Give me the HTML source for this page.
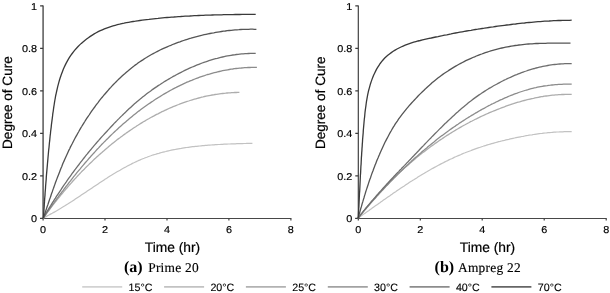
<!DOCTYPE html>
<html><head><meta charset="utf-8"><title>Degree of Cure</title>
<style>
html,body{margin:0;padding:0;background:#fff;}
svg{display:block}
text{font-family:"Liberation Sans",Arial,Helvetica,sans-serif;fill:#000;stroke:#000;stroke-width:0.12px;text-rendering:geometricPrecision}
.t{font-size:9.9px;stroke-width:0.16px}
.l{font-size:10.7px;stroke-width:0.12px}
.a{font-size:13.8px;stroke-width:0.2px}
.c{font-family:"Liberation Serif","Times New Roman",serif;font-size:13.4px;letter-spacing:0.25px;stroke-width:0.15px}
.cb{font-family:"Liberation Serif","Times New Roman",serif;font-size:16px;font-weight:bold;stroke:none}
</style></head><body>
<svg width="610" height="293" viewBox="0 0 610 293">
<rect width="610" height="293" fill="#fff"/>
<path d="M43.1,5.4 V218.4" fill="none" stroke="#626262" stroke-width="1.6"/>
<path d="M40.1,218.4 H291.4" fill="none" stroke="#484848" stroke-width="1.05"/>
<path d="M40.1,218.4 H43.1 M40.1,175.9 H43.1 M40.1,133.4 H43.1 M40.1,90.9 H43.1 M40.1,48.4 H43.1 M40.1,5.9 H43.1 M43.1,218.4 v2.2 M105.0,218.4 v2.2 M167.0,218.4 v2.2 M228.9,218.4 v2.2 M290.9,218.4 v2.2 " fill="none" stroke="#3c3c3c" stroke-width="1.15"/>
<path d="M43.3,218.3 L44.7,217.2 L46.0,216.6 L47.2,215.9 L48.5,215.3 L49.7,214.6 L51.0,213.9 L52.2,213.3 L53.4,212.6 L54.7,211.9 L55.9,211.2 L57.1,210.5 L58.4,209.7 L59.6,209.0 L60.8,208.3 L62.0,207.5 L63.2,206.8 L64.5,206.1 L65.7,205.3 L66.9,204.5 L68.1,203.8 L69.3,203.0 L70.5,202.2 L71.7,201.5 L72.9,200.7 L74.1,199.9 L75.3,199.1 L76.5,198.3 L77.7,197.5 L78.9,196.7 L80.1,195.9 L81.3,195.1 L82.5,194.3 L83.7,193.5 L84.9,192.7 L86.1,191.9 L87.3,191.1 L88.5,190.3 L89.7,189.5 L90.9,188.7 L92.1,187.9 L93.3,187.1 L94.5,186.3 L95.7,185.5 L96.9,184.7 L98.1,183.9 L99.3,183.1 L100.5,182.3 L101.7,181.5 L102.9,180.7 L104.1,179.9 L105.3,179.1 L106.5,178.4 L107.7,177.6 L108.9,176.8 L110.1,176.0 L111.4,175.3 L112.6,174.5 L113.8,173.8 L115.0,173.1 L116.3,172.3 L117.5,171.6 L118.7,170.9 L120.0,170.2 L121.2,169.4 L122.4,168.7 L123.7,168.0 L124.9,167.4 L126.2,166.7 L127.4,166.0 L128.7,165.4 L130.0,164.7 L131.2,164.1 L132.5,163.4 L133.8,162.8 L135.0,162.2 L136.3,161.6 L137.6,161.0 L138.9,160.4 L140.2,159.9 L141.5,159.3 L142.8,158.8 L144.1,158.3 L145.4,157.7 L146.8,157.2 L148.1,156.7 L149.4,156.3 L150.8,155.8 L152.1,155.3 L153.4,154.9 L154.8,154.5 L156.1,154.1 L157.5,153.6 L158.9,153.3 L160.2,152.9 L161.6,152.5 L163.0,152.1 L164.4,151.8 L165.7,151.5 L167.1,151.1 L168.5,150.8 L169.9,150.5 L171.3,150.2 L172.7,149.9 L174.1,149.6 L175.5,149.4 L176.9,149.1 L178.3,148.8 L179.8,148.6 L181.2,148.4 L182.6,148.1 L184.0,147.9 L185.4,147.7 L186.8,147.5 L188.3,147.3 L189.7,147.1 L191.1,146.9 L192.5,146.7 L194.0,146.6 L195.4,146.4 L196.8,146.3 L198.3,146.1 L199.7,146.0 L201.1,145.8 L202.6,145.7 L204.0,145.6 L205.4,145.4 L206.8,145.3 L208.3,145.2 L209.7,145.1 L211.1,145.0 L212.6,144.9 L214.0,144.8 L215.4,144.7 L216.9,144.6 L218.3,144.5 L219.7,144.5 L221.2,144.4 L222.6,144.3 L224.0,144.2 L225.4,144.2 L226.9,144.1 L228.3,144.0 L229.7,144.0 L231.2,143.9 L232.6,143.9 L234.0,143.8 L235.4,143.8 L236.9,143.7 L238.3,143.7 L239.7,143.6 L241.1,143.6 L242.5,143.6 L244.0,143.5 L245.4,143.5 L246.8,143.4 L248.2,143.4 L249.6,143.4 L251.0,143.3 L252.4,143.3" fill="none" stroke="#c2c2c2" stroke-width="1.2"/>
<path d="M43.3,218.3 L44.4,216.5 L45.2,215.3 L46.1,214.1 L47.0,212.9 L47.9,211.7 L48.8,210.5 L49.7,209.3 L50.6,208.1 L51.5,206.9 L52.4,205.7 L53.3,204.5 L54.2,203.4 L55.2,202.2 L56.1,201.0 L57.0,199.8 L58.0,198.6 L58.9,197.5 L59.9,196.3 L60.8,195.1 L61.8,194.0 L62.8,192.8 L63.7,191.6 L64.7,190.5 L65.7,189.3 L66.7,188.2 L67.7,187.0 L68.7,185.9 L69.7,184.7 L70.7,183.6 L71.7,182.5 L72.7,181.3 L73.7,180.2 L74.7,179.1 L75.8,178.0 L76.8,176.9 L77.8,175.8 L78.9,174.6 L79.9,173.5 L81.0,172.4 L82.0,171.3 L83.1,170.3 L84.2,169.2 L85.2,168.1 L86.3,167.0 L87.4,165.9 L88.5,164.9 L89.6,163.8 L90.7,162.7 L91.8,161.7 L92.9,160.6 L94.0,159.6 L95.1,158.6 L96.2,157.5 L97.3,156.5 L98.5,155.5 L99.6,154.4 L100.7,153.4 L101.9,152.4 L103.0,151.4 L104.2,150.4 L105.3,149.4 L106.5,148.4 L107.7,147.5 L108.8,146.5 L110.0,145.5 L111.2,144.6 L112.4,143.6 L113.5,142.7 L114.7,141.7 L115.9,140.8 L117.1,139.8 L118.3,138.9 L119.6,138.0 L120.8,137.1 L122.0,136.2 L123.2,135.3 L124.4,134.4 L125.7,133.5 L126.9,132.6 L128.2,131.7 L129.4,130.9 L130.7,130.0 L131.9,129.2 L133.2,128.3 L134.4,127.5 L135.7,126.7 L137.0,125.8 L138.3,125.0 L139.5,124.2 L140.8,123.4 L142.1,122.6 L143.4,121.8 L144.7,121.1 L146.0,120.3 L147.3,119.5 L148.7,118.8 L150.0,118.0 L151.3,117.3 L152.6,116.6 L154.0,115.9 L155.3,115.1 L156.6,114.4 L158.0,113.8 L159.3,113.1 L160.7,112.4 L162.0,111.7 L163.4,111.1 L164.8,110.4 L166.1,109.8 L167.5,109.2 L168.9,108.5 L170.3,107.9 L171.7,107.3 L173.1,106.7 L174.5,106.2 L175.9,105.6 L177.3,105.0 L178.7,104.5 L180.1,103.9 L181.5,103.4 L182.9,102.9 L184.3,102.4 L185.8,101.9 L187.2,101.4 L188.6,101.0 L190.1,100.5 L191.5,100.0 L193.0,99.6 L194.4,99.2 L195.9,98.8 L197.3,98.4 L198.8,98.0 L200.2,97.6 L201.7,97.2 L203.2,96.9 L204.6,96.5 L206.1,96.2 L207.6,95.9 L209.1,95.6 L210.6,95.3 L212.1,95.0 L213.6,94.8 L215.0,94.5 L216.5,94.3 L218.1,94.1 L219.6,93.9 L221.1,93.7 L222.6,93.5 L224.1,93.3 L225.6,93.2 L227.1,93.0 L228.7,92.9 L230.2,92.8 L231.7,92.7 L233.2,92.6 L234.8,92.5 L236.3,92.5 L237.9,92.4 L239.4,92.4" fill="none" stroke="#adadad" stroke-width="1.3"/>
<path d="M43.3,218.3 L44.4,216.3 L45.4,214.9 L46.3,213.5 L47.3,212.2 L48.2,210.8 L49.2,209.4 L50.2,208.0 L51.2,206.7 L52.2,205.3 L53.1,203.9 L54.1,202.6 L55.1,201.2 L56.1,199.8 L57.1,198.4 L58.1,197.1 L59.1,195.7 L60.1,194.3 L61.2,193.0 L62.2,191.6 L63.2,190.3 L64.2,188.9 L65.3,187.5 L66.3,186.2 L67.4,184.8 L68.4,183.5 L69.4,182.1 L70.5,180.8 L71.6,179.4 L72.6,178.1 L73.7,176.7 L74.8,175.4 L75.8,174.1 L76.9,172.7 L78.0,171.4 L79.1,170.1 L80.2,168.8 L81.3,167.4 L82.4,166.1 L83.5,164.8 L84.6,163.5 L85.7,162.2 L86.9,160.9 L88.0,159.6 L89.1,158.3 L90.3,157.0 L91.4,155.7 L92.6,154.4 L93.7,153.2 L94.9,151.9 L96.0,150.6 L97.2,149.3 L98.4,148.1 L99.6,146.8 L100.7,145.6 L101.9,144.3 L103.1,143.1 L104.3,141.9 L105.5,140.7 L106.7,139.4 L108.0,138.2 L109.2,137.0 L110.4,135.8 L111.6,134.6 L112.9,133.4 L114.1,132.2 L115.4,131.1 L116.6,129.9 L117.9,128.7 L119.1,127.6 L120.4,126.4 L121.7,125.3 L123.0,124.1 L124.3,123.0 L125.6,121.9 L126.9,120.8 L128.2,119.7 L129.5,118.6 L130.8,117.5 L132.1,116.4 L133.4,115.3 L134.8,114.2 L136.1,113.2 L137.5,112.1 L138.8,111.1 L140.2,110.1 L141.5,109.0 L142.9,108.0 L144.3,107.0 L145.7,106.0 L147.1,105.0 L148.5,104.0 L149.9,103.1 L151.3,102.1 L152.7,101.2 L154.1,100.2 L155.5,99.3 L157.0,98.4 L158.4,97.5 L159.9,96.6 L161.3,95.7 L162.8,94.8 L164.3,93.9 L165.7,93.1 L167.2,92.2 L168.7,91.4 L170.2,90.5 L171.7,89.7 L173.2,88.9 L174.7,88.1 L176.2,87.4 L177.7,86.6 L179.3,85.8 L180.8,85.1 L182.4,84.4 L183.9,83.6 L185.5,82.9 L187.0,82.2 L188.6,81.6 L190.1,80.9 L191.7,80.3 L193.3,79.6 L194.9,79.0 L196.5,78.4 L198.1,77.8 L199.7,77.2 L201.3,76.6 L202.9,76.1 L204.5,75.6 L206.1,75.0 L207.8,74.5 L209.4,74.1 L211.0,73.6 L212.7,73.1 L214.3,72.7 L216.0,72.3 L217.6,71.9 L219.3,71.5 L221.0,71.1 L222.6,70.7 L224.3,70.4 L226.0,70.1 L227.7,69.8 L229.3,69.5 L231.0,69.2 L232.7,69.0 L234.4,68.7 L236.1,68.5 L237.8,68.3 L239.5,68.1 L241.3,68.0 L243.0,67.8 L244.7,67.7 L246.4,67.6 L248.2,67.5 L249.9,67.5 L251.6,67.4 L253.4,67.4 L255.1,67.4 L256.9,67.4" fill="none" stroke="#8c8c8c" stroke-width="1.3"/>
<path d="M43.3,218.3 L44.3,216.3 L45.2,214.8 L46.1,213.2 L47.0,211.7 L47.9,210.2 L48.8,208.7 L49.7,207.2 L50.7,205.7 L51.6,204.2 L52.5,202.7 L53.5,201.2 L54.4,199.7 L55.4,198.2 L56.3,196.7 L57.3,195.2 L58.2,193.8 L59.2,192.3 L60.2,190.8 L61.2,189.4 L62.1,187.9 L63.1,186.4 L64.1,185.0 L65.1,183.5 L66.1,182.1 L67.1,180.6 L68.1,179.2 L69.2,177.7 L70.2,176.3 L71.2,174.9 L72.2,173.4 L73.3,172.0 L74.3,170.6 L75.4,169.2 L76.4,167.8 L77.5,166.4 L78.6,165.0 L79.6,163.6 L80.7,162.2 L81.8,160.8 L82.9,159.4 L84.0,158.0 L85.1,156.6 L86.2,155.2 L87.3,153.9 L88.4,152.5 L89.5,151.1 L90.7,149.8 L91.8,148.4 L92.9,147.1 L94.1,145.7 L95.2,144.4 L96.4,143.0 L97.5,141.7 L98.7,140.4 L99.9,139.0 L101.0,137.7 L102.2,136.4 L103.4,135.1 L104.6,133.8 L105.8,132.5 L107.0,131.2 L108.2,129.9 L109.4,128.6 L110.6,127.3 L111.8,126.0 L113.0,124.7 L114.2,123.4 L115.4,122.2 L116.7,120.9 L117.9,119.6 L119.2,118.4 L120.4,117.1 L121.7,115.9 L122.9,114.7 L124.2,113.4 L125.5,112.2 L126.7,111.0 L128.0,109.8 L129.3,108.6 L130.6,107.4 L131.9,106.2 L133.2,105.0 L134.5,103.8 L135.8,102.7 L137.2,101.5 L138.5,100.4 L139.9,99.3 L141.2,98.2 L142.6,97.1 L144.0,96.0 L145.3,94.9 L146.7,93.8 L148.1,92.7 L149.6,91.7 L151.0,90.7 L152.4,89.6 L153.8,88.6 L155.3,87.6 L156.8,86.6 L158.2,85.6 L159.7,84.7 L161.2,83.7 L162.7,82.8 L164.2,81.8 L165.7,80.9 L167.2,80.0 L168.7,79.1 L170.2,78.2 L171.8,77.3 L173.3,76.4 L174.9,75.6 L176.4,74.7 L178.0,73.9 L179.5,73.1 L181.1,72.3 L182.7,71.5 L184.3,70.7 L185.9,69.9 L187.5,69.2 L189.1,68.4 L190.7,67.7 L192.3,67.0 L194.0,66.3 L195.6,65.6 L197.2,64.9 L198.9,64.3 L200.5,63.7 L202.2,63.0 L203.9,62.4 L205.5,61.9 L207.2,61.3 L208.9,60.7 L210.6,60.2 L212.2,59.7 L213.9,59.2 L215.6,58.7 L217.3,58.3 L219.0,57.8 L220.7,57.4 L222.5,57.0 L224.2,56.6 L225.9,56.2 L227.6,55.9 L229.4,55.6 L231.1,55.3 L232.8,55.0 L234.6,54.8 L236.3,54.5 L238.1,54.3 L239.8,54.1 L241.6,53.9 L243.3,53.8 L245.1,53.7 L246.8,53.6 L248.6,53.5 L250.4,53.4 L252.1,53.4 L253.9,53.4 L255.7,53.4" fill="none" stroke="#6e6e6e" stroke-width="1.3"/>
<path d="M43.3,218.3 L44.0,216.0 L44.7,214.1 L45.3,212.3 L45.9,210.4 L46.5,208.6 L47.1,206.7 L47.8,204.9 L48.4,203.0 L49.0,201.2 L49.6,199.4 L50.3,197.5 L50.9,195.7 L51.5,193.8 L52.2,192.0 L52.8,190.1 L53.5,188.3 L54.1,186.5 L54.8,184.6 L55.4,182.8 L56.1,181.0 L56.8,179.1 L57.5,177.3 L58.2,175.5 L58.9,173.7 L59.6,171.9 L60.3,170.0 L61.0,168.2 L61.8,166.4 L62.5,164.6 L63.2,162.8 L64.0,161.1 L64.8,159.3 L65.6,157.5 L66.4,155.7 L67.2,153.9 L68.0,152.2 L68.8,150.4 L69.7,148.7 L70.5,146.9 L71.4,145.2 L72.3,143.5 L73.2,141.7 L74.1,140.0 L75.0,138.3 L75.9,136.6 L76.9,134.9 L77.8,133.2 L78.8,131.5 L79.7,129.8 L80.7,128.1 L81.7,126.5 L82.7,124.8 L83.8,123.1 L84.8,121.5 L85.8,119.8 L86.9,118.2 L88.0,116.6 L89.1,115.0 L90.2,113.3 L91.3,111.7 L92.4,110.1 L93.5,108.6 L94.7,107.0 L95.8,105.4 L97.0,103.8 L98.2,102.3 L99.4,100.7 L100.6,99.2 L101.8,97.7 L103.1,96.2 L104.3,94.7 L105.6,93.2 L106.9,91.7 L108.1,90.3 L109.4,88.8 L110.8,87.4 L112.1,85.9 L113.4,84.5 L114.8,83.1 L116.2,81.7 L117.5,80.4 L118.9,79.0 L120.3,77.7 L121.8,76.3 L123.2,75.0 L124.7,73.7 L126.1,72.4 L127.6,71.2 L129.1,69.9 L130.6,68.7 L132.1,67.5 L133.7,66.3 L135.2,65.1 L136.8,64.0 L138.3,62.8 L139.9,61.7 L141.6,60.6 L143.2,59.6 L144.8,58.5 L146.5,57.5 L148.1,56.5 L149.8,55.5 L151.5,54.5 L153.2,53.6 L154.9,52.7 L156.6,51.8 L158.4,50.9 L160.1,50.0 L161.9,49.2 L163.6,48.4 L165.4,47.6 L167.2,46.8 L169.0,46.0 L170.8,45.3 L172.6,44.5 L174.4,43.8 L176.2,43.1 L178.1,42.4 L179.9,41.8 L181.7,41.1 L183.6,40.5 L185.4,39.9 L187.3,39.3 L189.2,38.7 L191.0,38.2 L192.9,37.6 L194.8,37.1 L196.7,36.6 L198.6,36.1 L200.5,35.6 L202.3,35.2 L204.2,34.7 L206.1,34.3 L208.1,33.9 L210.0,33.5 L211.9,33.1 L213.8,32.8 L215.7,32.4 L217.6,32.1 L219.5,31.8 L221.5,31.5 L223.4,31.2 L225.3,31.0 L227.3,30.7 L229.2,30.5 L231.1,30.3 L233.1,30.1 L235.0,29.9 L236.9,29.8 L238.9,29.7 L240.8,29.5 L242.8,29.4 L244.7,29.4 L246.6,29.3 L248.6,29.3 L250.5,29.2 L252.5,29.2 L254.4,29.3 L256.4,29.3" fill="none" stroke="#555555" stroke-width="1.3"/>
<path d="M43.3,218.3 L43.6,215.5 L43.7,213.3 L43.9,211.0 L44.0,208.7 L44.2,206.4 L44.3,204.1 L44.5,201.9 L44.6,199.6 L44.8,197.3 L45.0,195.1 L45.1,192.8 L45.3,190.5 L45.5,188.2 L45.6,186.0 L45.8,183.7 L46.0,181.4 L46.2,179.2 L46.3,176.9 L46.5,174.6 L46.7,172.4 L46.9,170.1 L47.1,167.9 L47.3,165.6 L47.5,163.3 L47.7,161.1 L47.9,158.8 L48.1,156.5 L48.3,154.3 L48.5,152.0 L48.7,149.8 L49.0,147.5 L49.2,145.2 L49.4,143.0 L49.7,140.7 L49.9,138.4 L50.1,136.2 L50.4,133.9 L50.6,131.7 L50.9,129.4 L51.2,127.1 L51.4,124.9 L51.7,122.6 L52.0,120.3 L52.3,118.1 L52.6,115.8 L52.8,113.6 L53.2,111.3 L53.5,109.0 L53.8,106.8 L54.2,104.5 L54.5,102.3 L54.9,100.0 L55.3,97.8 L55.7,95.5 L56.2,93.3 L56.7,91.0 L57.2,88.8 L57.7,86.6 L58.3,84.4 L58.9,82.2 L59.5,80.0 L60.2,77.8 L60.9,75.7 L61.7,73.5 L62.5,71.4 L63.3,69.3 L64.2,67.2 L65.2,65.1 L66.2,63.1 L67.3,61.1 L68.4,59.1 L69.6,57.2 L70.8,55.3 L72.2,53.5 L73.6,51.7 L75.0,49.9 L76.5,48.2 L78.1,46.5 L79.7,44.9 L81.3,43.4 L83.0,41.9 L84.8,40.4 L86.6,39.0 L88.4,37.7 L90.3,36.4 L92.3,35.1 L94.2,33.9 L96.2,32.8 L98.2,31.7 L100.3,30.7 L102.3,29.8 L104.4,28.9 L106.5,28.1 L108.7,27.3 L110.8,26.6 L113.0,25.9 L115.2,25.3 L117.4,24.7 L119.6,24.2 L121.8,23.6 L124.1,23.2 L126.3,22.7 L128.6,22.3 L130.8,21.9 L133.1,21.5 L135.4,21.2 L137.6,20.8 L139.9,20.5 L142.2,20.2 L144.4,19.9 L146.7,19.6 L148.9,19.4 L151.2,19.1 L153.5,18.8 L155.7,18.6 L158.0,18.4 L160.2,18.1 L162.5,17.9 L164.8,17.7 L167.0,17.5 L169.3,17.3 L171.5,17.1 L173.8,17.0 L176.1,16.8 L178.3,16.6 L180.6,16.5 L182.9,16.3 L185.1,16.2 L187.4,16.1 L189.7,16.0 L192.0,15.8 L194.2,15.7 L196.5,15.6 L198.8,15.5 L201.1,15.4 L203.3,15.3 L205.6,15.2 L207.9,15.2 L210.2,15.1 L212.4,15.0 L214.7,14.9 L217.0,14.9 L219.3,14.8 L221.6,14.8 L223.8,14.7 L226.1,14.7 L228.4,14.6 L230.7,14.6 L233.0,14.6 L235.2,14.5 L237.5,14.5 L239.8,14.5 L242.1,14.4 L244.3,14.4 L246.6,14.4 L248.9,14.4 L251.2,14.4 L253.4,14.4 L255.7,14.4" fill="none" stroke="#3a3a3a" stroke-width="1.3"/>
<text transform="translate(37.1,222.3) scale(1.10,1)" text-anchor="end" class="t">0</text>
<text transform="translate(37.1,179.8) scale(1.10,1)" text-anchor="end" class="t">0.2</text>
<text transform="translate(37.1,137.3) scale(1.10,1)" text-anchor="end" class="t">0.4</text>
<text transform="translate(37.1,94.8) scale(1.10,1)" text-anchor="end" class="t">0.6</text>
<text transform="translate(37.1,52.3) scale(1.10,1)" text-anchor="end" class="t">0.8</text>
<text transform="translate(37.1,9.8) scale(1.10,1)" text-anchor="end" class="t">1</text>
<text transform="translate(43.1,233.0) scale(1.10,1)" text-anchor="middle" class="t">0</text>
<text transform="translate(105.0,233.0) scale(1.10,1)" text-anchor="middle" class="t">2</text>
<text transform="translate(167.0,233.0) scale(1.10,1)" text-anchor="middle" class="t">4</text>
<text transform="translate(228.9,233.0) scale(1.10,1)" text-anchor="middle" class="t">6</text>
<text transform="translate(290.9,233.0) scale(1.10,1)" text-anchor="middle" class="t">8</text>
<path d="M358.3,5.4 V218.4" fill="none" stroke="#3a3a3a" stroke-width="1.15"/>
<path d="M355.3,218.4 H606.7" fill="none" stroke="#484848" stroke-width="1.05"/>
<path d="M355.3,218.4 H358.3 M355.3,175.9 H358.3 M355.3,133.4 H358.3 M355.3,90.9 H358.3 M355.3,48.4 H358.3 M355.3,5.9 H358.3 M358.3,218.4 v2.2 M420.3,218.4 v2.2 M482.2,218.4 v2.2 M544.2,218.4 v2.2 M606.2,218.4 v2.2 " fill="none" stroke="#3c3c3c" stroke-width="1.15"/>
<path d="M358.1,218.5 L359.4,217.2 L360.6,216.3 L361.8,215.5 L363.0,214.6 L364.2,213.8 L365.4,212.9 L366.6,212.1 L367.8,211.2 L369.0,210.4 L370.2,209.5 L371.4,208.7 L372.6,207.8 L373.8,206.9 L375.0,206.1 L376.2,205.2 L377.5,204.4 L378.7,203.5 L379.9,202.7 L381.1,201.8 L382.3,201.0 L383.5,200.1 L384.7,199.3 L385.9,198.4 L387.1,197.6 L388.3,196.7 L389.6,195.9 L390.8,195.0 L392.0,194.2 L393.2,193.3 L394.4,192.5 L395.7,191.7 L396.9,190.8 L398.1,190.0 L399.3,189.2 L400.6,188.3 L401.8,187.5 L403.0,186.7 L404.3,185.9 L405.5,185.1 L406.7,184.3 L408.0,183.4 L409.2,182.6 L410.4,181.8 L411.7,181.0 L412.9,180.2 L414.2,179.5 L415.4,178.7 L416.7,177.9 L417.9,177.1 L419.2,176.3 L420.5,175.6 L421.7,174.8 L423.0,174.0 L424.3,173.3 L425.5,172.5 L426.8,171.8 L428.1,171.0 L429.4,170.3 L430.6,169.6 L431.9,168.8 L433.2,168.1 L434.5,167.4 L435.8,166.7 L437.1,166.0 L438.4,165.3 L439.7,164.6 L441.0,163.9 L442.3,163.2 L443.6,162.6 L444.9,161.9 L446.2,161.2 L447.6,160.6 L448.9,159.9 L450.2,159.3 L451.6,158.7 L452.9,158.1 L454.2,157.4 L455.6,156.8 L456.9,156.2 L458.3,155.6 L459.6,155.1 L461.0,154.5 L462.3,153.9 L463.7,153.3 L465.1,152.8 L466.4,152.2 L467.8,151.7 L469.2,151.2 L470.6,150.7 L472.0,150.1 L473.3,149.6 L474.7,149.1 L476.1,148.6 L477.5,148.1 L478.9,147.7 L480.3,147.2 L481.7,146.7 L483.1,146.3 L484.5,145.8 L485.9,145.4 L487.4,144.9 L488.8,144.5 L490.2,144.1 L491.6,143.7 L493.0,143.3 L494.5,142.9 L495.9,142.5 L497.3,142.1 L498.7,141.7 L500.2,141.4 L501.6,141.0 L503.0,140.6 L504.5,140.3 L505.9,139.9 L507.4,139.6 L508.8,139.3 L510.2,138.9 L511.7,138.6 L513.1,138.3 L514.6,138.0 L516.0,137.7 L517.5,137.4 L518.9,137.1 L520.4,136.8 L521.8,136.5 L523.3,136.3 L524.7,136.0 L526.2,135.7 L527.6,135.5 L529.1,135.2 L530.6,135.0 L532.0,134.8 L533.5,134.5 L534.9,134.3 L536.4,134.1 L537.9,133.9 L539.3,133.7 L540.8,133.5 L542.2,133.4 L543.7,133.2 L545.2,133.0 L546.6,132.9 L548.1,132.7 L549.6,132.6 L551.1,132.5 L552.5,132.3 L554.0,132.2 L555.5,132.1 L556.9,132.0 L558.4,132.0 L559.9,131.9 L561.4,131.8 L562.8,131.8 L564.3,131.7 L565.8,131.7 L567.3,131.7 L568.7,131.6 L570.2,131.6 L571.7,131.6" fill="none" stroke="#c2c2c2" stroke-width="1.2"/>
<path d="M358.1,218.5 L359.2,216.8 L360.2,215.5 L361.2,214.3 L362.2,213.0 L363.2,211.8 L364.3,210.5 L365.3,209.3 L366.3,208.0 L367.3,206.8 L368.4,205.6 L369.4,204.4 L370.4,203.1 L371.5,201.9 L372.5,200.7 L373.6,199.5 L374.7,198.3 L375.7,197.1 L376.8,195.9 L377.9,194.7 L379.0,193.5 L380.0,192.3 L381.1,191.2 L382.2,190.0 L383.3,188.8 L384.4,187.7 L385.5,186.5 L386.6,185.3 L387.8,184.2 L388.9,183.1 L390.0,181.9 L391.1,180.8 L392.3,179.6 L393.4,178.5 L394.6,177.4 L395.7,176.3 L396.9,175.2 L398.0,174.1 L399.2,173.0 L400.4,171.9 L401.5,170.8 L402.7,169.7 L403.9,168.6 L405.1,167.6 L406.3,166.5 L407.5,165.4 L408.7,164.4 L409.9,163.3 L411.1,162.3 L412.3,161.2 L413.5,160.2 L414.8,159.2 L416.0,158.1 L417.2,157.1 L418.5,156.1 L419.7,155.1 L421.0,154.1 L422.2,153.1 L423.5,152.1 L424.8,151.2 L426.0,150.2 L427.3,149.2 L428.6,148.2 L429.9,147.3 L431.2,146.3 L432.5,145.4 L433.8,144.5 L435.1,143.5 L436.4,142.6 L437.7,141.7 L439.0,140.8 L440.3,139.9 L441.7,139.0 L443.0,138.1 L444.3,137.2 L445.7,136.3 L447.0,135.4 L448.4,134.6 L449.7,133.7 L451.1,132.9 L452.5,132.0 L453.8,131.2 L455.2,130.4 L456.6,129.5 L458.0,128.7 L459.4,127.9 L460.8,127.1 L462.2,126.3 L463.6,125.5 L465.0,124.8 L466.4,124.0 L467.8,123.2 L469.2,122.5 L470.6,121.7 L472.1,121.0 L473.5,120.3 L474.9,119.5 L476.4,118.8 L477.8,118.1 L479.3,117.4 L480.7,116.7 L482.2,116.0 L483.6,115.4 L485.1,114.7 L486.5,114.0 L488.0,113.4 L489.5,112.7 L490.9,112.1 L492.4,111.5 L493.9,110.9 L495.4,110.3 L496.9,109.7 L498.4,109.1 L499.9,108.5 L501.4,107.9 L502.9,107.3 L504.4,106.8 L505.9,106.2 L507.4,105.7 L508.9,105.2 L510.4,104.7 L511.9,104.1 L513.4,103.7 L515.0,103.2 L516.5,102.7 L518.0,102.2 L519.6,101.8 L521.1,101.3 L522.6,100.9 L524.2,100.5 L525.7,100.1 L527.3,99.7 L528.8,99.3 L530.4,99.0 L531.9,98.6 L533.5,98.3 L535.1,97.9 L536.6,97.6 L538.2,97.3 L539.8,97.0 L541.3,96.7 L542.9,96.5 L544.5,96.2 L546.1,96.0 L547.7,95.8 L549.2,95.6 L550.8,95.4 L552.4,95.2 L554.0,95.1 L555.6,94.9 L557.2,94.8 L558.8,94.7 L560.4,94.6 L562.0,94.5 L563.6,94.5 L565.3,94.4 L566.9,94.4 L568.5,94.4 L570.1,94.4 L571.7,94.4" fill="none" stroke="#adadad" stroke-width="1.3"/>
<path d="M358.1,218.5 L359.2,216.6 L360.2,215.4 L361.2,214.2 L362.3,212.9 L363.4,211.7 L364.4,210.4 L365.5,209.2 L366.5,208.0 L367.6,206.7 L368.7,205.5 L369.7,204.3 L370.8,203.0 L371.9,201.8 L373.0,200.6 L374.1,199.4 L375.2,198.2 L376.2,197.0 L377.3,195.7 L378.4,194.5 L379.5,193.3 L380.7,192.1 L381.8,190.9 L382.9,189.7 L384.0,188.5 L385.1,187.3 L386.2,186.1 L387.4,185.0 L388.5,183.8 L389.6,182.6 L390.8,181.4 L391.9,180.2 L393.1,179.1 L394.2,177.9 L395.4,176.7 L396.5,175.6 L397.7,174.4 L398.8,173.3 L400.0,172.1 L401.2,171.0 L402.4,169.8 L403.5,168.7 L404.7,167.6 L405.9,166.4 L407.1,165.3 L408.3,164.2 L409.5,163.1 L410.7,162.0 L411.9,160.8 L413.1,159.7 L414.3,158.6 L415.5,157.5 L416.8,156.5 L418.0,155.4 L419.2,154.3 L420.5,153.2 L421.7,152.1 L422.9,151.1 L424.2,150.0 L425.4,148.9 L426.7,147.9 L427.9,146.8 L429.2,145.8 L430.5,144.8 L431.7,143.7 L433.0,142.7 L434.3,141.7 L435.6,140.6 L436.8,139.6 L438.1,138.6 L439.4,137.6 L440.7,136.6 L442.0,135.6 L443.3,134.7 L444.6,133.7 L445.9,132.7 L447.3,131.7 L448.6,130.8 L449.9,129.8 L451.2,128.9 L452.6,127.9 L453.9,127.0 L455.3,126.1 L456.6,125.1 L458.0,124.2 L459.3,123.3 L460.7,122.4 L462.0,121.5 L463.4,120.6 L464.8,119.7 L466.2,118.8 L467.5,118.0 L468.9,117.1 L470.3,116.3 L471.7,115.4 L473.1,114.6 L474.5,113.7 L475.9,112.9 L477.3,112.1 L478.7,111.2 L480.2,110.4 L481.6,109.6 L483.0,108.8 L484.5,108.1 L485.9,107.3 L487.3,106.5 L488.8,105.7 L490.2,105.0 L491.7,104.2 L493.2,103.5 L494.6,102.8 L496.1,102.0 L497.6,101.3 L499.0,100.6 L500.5,99.9 L502.0,99.3 L503.5,98.6 L505.0,97.9 L506.5,97.3 L508.0,96.6 L509.5,96.0 L511.0,95.4 L512.6,94.8 L514.1,94.2 L515.6,93.6 L517.2,93.1 L518.7,92.5 L520.2,92.0 L521.8,91.5 L523.3,91.0 L524.9,90.5 L526.5,90.0 L528.0,89.6 L529.6,89.1 L531.2,88.7 L532.7,88.3 L534.3,87.9 L535.9,87.6 L537.5,87.2 L539.1,86.9 L540.7,86.6 L542.3,86.3 L543.9,86.0 L545.6,85.8 L547.2,85.6 L548.8,85.3 L550.4,85.2 L552.1,85.0 L553.7,84.8 L555.3,84.7 L557.0,84.6 L558.6,84.4 L560.2,84.3 L561.9,84.3 L563.5,84.2 L565.2,84.1 L566.8,84.1 L568.5,84.1 L570.1,84.1 L571.7,84.1" fill="none" stroke="#8c8c8c" stroke-width="1.3"/>
<path d="M358.1,218.5 L359.2,216.6 L360.3,215.3 L361.3,213.9 L362.4,212.6 L363.4,211.2 L364.5,209.9 L365.6,208.5 L366.7,207.2 L367.7,205.9 L368.8,204.6 L369.9,203.3 L371.0,202.0 L372.1,200.7 L373.3,199.4 L374.4,198.1 L375.5,196.8 L376.6,195.5 L377.8,194.2 L378.9,192.9 L380.0,191.6 L381.2,190.4 L382.3,189.1 L383.5,187.8 L384.6,186.6 L385.8,185.3 L386.9,184.0 L388.1,182.8 L389.3,181.5 L390.4,180.3 L391.6,179.0 L392.8,177.8 L393.9,176.5 L395.1,175.3 L396.3,174.0 L397.5,172.8 L398.7,171.6 L399.8,170.3 L401.0,169.1 L402.2,167.8 L403.4,166.6 L404.6,165.4 L405.8,164.1 L406.9,162.9 L408.1,161.7 L409.3,160.4 L410.5,159.2 L411.7,157.9 L412.8,156.7 L414.0,155.5 L415.2,154.2 L416.4,153.0 L417.6,151.7 L418.8,150.5 L419.9,149.3 L421.1,148.0 L422.3,146.8 L423.5,145.6 L424.7,144.3 L425.8,143.1 L427.0,141.9 L428.2,140.6 L429.4,139.4 L430.6,138.2 L431.8,136.9 L433.0,135.7 L434.2,134.5 L435.4,133.3 L436.6,132.1 L437.8,130.9 L439.0,129.6 L440.2,128.4 L441.5,127.2 L442.7,126.0 L443.9,124.8 L445.1,123.6 L446.4,122.5 L447.6,121.3 L448.9,120.1 L450.1,118.9 L451.4,117.7 L452.6,116.6 L453.9,115.4 L455.1,114.3 L456.4,113.1 L457.7,112.0 L459.0,110.8 L460.2,109.7 L461.5,108.6 L462.8,107.5 L464.1,106.4 L465.5,105.3 L466.8,104.2 L468.1,103.1 L469.4,102.0 L470.8,101.0 L472.1,99.9 L473.5,98.9 L474.9,97.9 L476.3,96.9 L477.7,95.9 L479.1,94.9 L480.5,94.0 L481.9,93.0 L483.3,92.1 L484.8,91.1 L486.2,90.2 L487.7,89.3 L489.1,88.4 L490.6,87.6 L492.1,86.7 L493.6,85.8 L495.1,85.0 L496.6,84.2 L498.1,83.4 L499.6,82.6 L501.1,81.8 L502.6,81.0 L504.2,80.2 L505.7,79.5 L507.3,78.7 L508.8,78.0 L510.4,77.3 L511.9,76.6 L513.5,75.9 L515.1,75.2 L516.7,74.6 L518.3,73.9 L519.9,73.3 L521.5,72.7 L523.1,72.1 L524.7,71.5 L526.3,71.0 L527.9,70.4 L529.6,69.9 L531.2,69.4 L532.8,68.9 L534.5,68.5 L536.1,68.0 L537.8,67.6 L539.4,67.2 L541.1,66.8 L542.8,66.4 L544.4,66.1 L546.1,65.8 L547.8,65.5 L549.5,65.2 L551.2,64.9 L552.9,64.7 L554.6,64.5 L556.3,64.3 L558.0,64.1 L559.7,64.0 L561.4,63.9 L563.1,63.8 L564.8,63.7 L566.5,63.7 L568.3,63.7 L570.0,63.7 L571.7,63.7" fill="none" stroke="#6e6e6e" stroke-width="1.3"/>
<path d="M358.1,218.5 L358.7,216.2 L359.2,214.3 L359.7,212.5 L360.2,210.6 L360.7,208.8 L361.3,206.9 L361.8,205.1 L362.3,203.2 L362.9,201.4 L363.4,199.6 L364.0,197.7 L364.5,195.9 L365.1,194.1 L365.6,192.3 L366.2,190.4 L366.8,188.6 L367.4,186.8 L368.0,185.0 L368.6,183.1 L369.2,181.3 L369.8,179.5 L370.5,177.7 L371.1,175.9 L371.7,174.1 L372.4,172.3 L373.1,170.5 L373.7,168.7 L374.4,166.9 L375.1,165.1 L375.8,163.4 L376.5,161.6 L377.2,159.8 L378.0,158.0 L378.7,156.3 L379.5,154.5 L380.2,152.7 L381.0,151.0 L381.8,149.2 L382.6,147.5 L383.4,145.7 L384.2,144.0 L385.0,142.3 L385.9,140.6 L386.8,138.9 L387.7,137.2 L388.6,135.5 L389.5,133.8 L390.4,132.1 L391.4,130.5 L392.3,128.8 L393.3,127.2 L394.3,125.6 L395.3,123.9 L396.4,122.3 L397.5,120.8 L398.5,119.2 L399.7,117.6 L400.8,116.1 L401.9,114.6 L403.1,113.1 L404.3,111.6 L405.5,110.1 L406.7,108.6 L408.0,107.1 L409.2,105.7 L410.5,104.2 L411.8,102.8 L413.1,101.4 L414.4,100.0 L415.7,98.6 L417.0,97.2 L418.3,95.8 L419.7,94.4 L421.0,93.1 L422.4,91.7 L423.8,90.4 L425.2,89.1 L426.6,87.7 L428.0,86.4 L429.4,85.2 L430.8,83.9 L432.3,82.6 L433.7,81.4 L435.2,80.2 L436.7,79.0 L438.2,77.8 L439.7,76.7 L441.3,75.5 L442.8,74.4 L444.4,73.3 L446.0,72.2 L447.6,71.2 L449.2,70.1 L450.8,69.1 L452.4,68.1 L454.0,67.1 L455.7,66.1 L457.3,65.2 L459.0,64.3 L460.7,63.4 L462.4,62.5 L464.1,61.6 L465.8,60.7 L467.6,59.9 L469.3,59.1 L471.1,58.3 L472.8,57.5 L474.6,56.8 L476.4,56.0 L478.1,55.3 L479.9,54.6 L481.7,54.0 L483.5,53.3 L485.3,52.7 L487.2,52.1 L489.0,51.5 L490.8,50.9 L492.7,50.4 L494.5,49.9 L496.4,49.4 L498.2,48.9 L500.1,48.4 L501.9,48.0 L503.8,47.6 L505.7,47.2 L507.5,46.8 L509.4,46.5 L511.3,46.1 L513.2,45.8 L515.1,45.5 L517.0,45.3 L518.9,45.0 L520.8,44.8 L522.7,44.6 L524.6,44.4 L526.5,44.2 L528.4,44.0 L530.3,43.9 L532.2,43.8 L534.1,43.6 L536.0,43.5 L537.9,43.5 L539.9,43.4 L541.8,43.3 L543.7,43.3 L545.6,43.3 L547.5,43.2 L549.4,43.2 L551.4,43.2 L553.3,43.2 L555.2,43.2 L557.1,43.2 L559.0,43.2 L560.9,43.2 L562.9,43.2 L564.8,43.2 L566.7,43.2 L568.6,43.2 L570.5,43.2" fill="none" stroke="#555555" stroke-width="1.3"/>
<path d="M358.1,218.5 L358.4,215.8 L358.5,213.5 L358.6,211.3 L358.7,209.0 L358.9,206.7 L359.0,204.5 L359.1,202.2 L359.2,200.0 L359.3,197.7 L359.4,195.5 L359.5,193.3 L359.7,191.0 L359.8,188.8 L359.9,186.5 L360.0,184.3 L360.1,182.0 L360.2,179.8 L360.3,177.5 L360.4,175.3 L360.6,173.0 L360.7,170.8 L360.8,168.6 L360.9,166.3 L361.1,164.1 L361.2,161.8 L361.3,159.6 L361.4,157.4 L361.6,155.1 L361.7,152.9 L361.9,150.6 L362.0,148.4 L362.2,146.1 L362.3,143.9 L362.5,141.7 L362.6,139.4 L362.8,137.2 L363.0,134.9 L363.2,132.7 L363.3,130.4 L363.5,128.2 L363.7,126.0 L363.9,123.7 L364.1,121.5 L364.3,119.2 L364.6,117.0 L364.8,114.7 L365.0,112.5 L365.3,110.2 L365.6,108.0 L365.9,105.8 L366.2,103.5 L366.5,101.3 L366.9,99.1 L367.3,96.8 L367.7,94.6 L368.2,92.4 L368.7,90.2 L369.3,88.1 L369.9,85.9 L370.5,83.7 L371.2,81.6 L372.0,79.4 L372.8,77.3 L373.6,75.2 L374.6,73.2 L375.6,71.1 L376.6,69.1 L377.8,67.2 L379.0,65.3 L380.2,63.5 L381.6,61.7 L383.0,60.0 L384.5,58.3 L386.1,56.8 L387.8,55.3 L389.5,53.9 L391.3,52.6 L393.2,51.3 L395.1,50.1 L397.0,49.0 L399.0,48.0 L401.0,47.0 L403.1,46.1 L405.2,45.2 L407.3,44.4 L409.4,43.6 L411.5,42.9 L413.7,42.2 L415.9,41.6 L418.0,41.0 L420.2,40.5 L422.5,39.9 L424.7,39.4 L426.9,38.9 L429.1,38.4 L431.3,38.0 L433.5,37.5 L435.8,37.0 L438.0,36.6 L440.2,36.1 L442.4,35.7 L444.6,35.2 L446.8,34.8 L449.0,34.3 L451.1,33.9 L453.3,33.4 L455.5,33.0 L457.7,32.6 L459.9,32.2 L462.2,31.8 L464.4,31.4 L466.6,31.0 L468.8,30.6 L471.0,30.3 L473.2,29.9 L475.4,29.5 L477.7,29.2 L479.9,28.8 L482.1,28.5 L484.3,28.2 L486.6,27.8 L488.8,27.5 L491.0,27.2 L493.3,26.9 L495.5,26.5 L497.7,26.2 L500.0,25.9 L502.2,25.6 L504.4,25.3 L506.7,25.0 L508.9,24.8 L511.1,24.5 L513.4,24.2 L515.6,24.0 L517.8,23.7 L520.1,23.4 L522.3,23.2 L524.5,23.0 L526.8,22.7 L529.0,22.5 L531.3,22.3 L533.5,22.1 L535.7,21.9 L538.0,21.7 L540.2,21.6 L542.5,21.4 L544.7,21.2 L547.0,21.1 L549.2,21.0 L551.5,20.8 L553.7,20.7 L555.9,20.6 L558.2,20.5 L560.4,20.5 L562.7,20.4 L564.9,20.3 L567.2,20.3 L569.4,20.3 L571.7,20.2" fill="none" stroke="#3a3a3a" stroke-width="1.3"/>
<text transform="translate(352.3,222.3) scale(1.10,1)" text-anchor="end" class="t">0</text>
<text transform="translate(352.3,179.8) scale(1.10,1)" text-anchor="end" class="t">0.2</text>
<text transform="translate(352.3,137.3) scale(1.10,1)" text-anchor="end" class="t">0.4</text>
<text transform="translate(352.3,94.8) scale(1.10,1)" text-anchor="end" class="t">0.6</text>
<text transform="translate(352.3,52.3) scale(1.10,1)" text-anchor="end" class="t">0.8</text>
<text transform="translate(352.3,9.8) scale(1.10,1)" text-anchor="end" class="t">1</text>
<text transform="translate(358.3,233.0) scale(1.10,1)" text-anchor="middle" class="t">0</text>
<text transform="translate(420.3,233.0) scale(1.10,1)" text-anchor="middle" class="t">2</text>
<text transform="translate(482.2,233.0) scale(1.10,1)" text-anchor="middle" class="t">4</text>
<text transform="translate(544.2,233.0) scale(1.10,1)" text-anchor="middle" class="t">6</text>
<text transform="translate(606.2,233.0) scale(1.10,1)" text-anchor="middle" class="t">8</text>
<text x="172.5" y="251.6" text-anchor="middle" class="a">Time (hr)</text>
<text x="487.5" y="251.6" text-anchor="middle" class="a">Time (hr)</text>
<text transform="translate(11.6,102.6) rotate(-90)" text-anchor="middle" class="a" style="font-size:13.55px">Degree of Cure</text>
<text transform="translate(325.1,102.8) rotate(-90)" text-anchor="middle" class="a" style="font-size:13.55px">Degree of Cure</text>
<text x="123.9" y="271.7" class="cb">(a)</text><text x="148.2" y="271.7" class="c">Prime 20</text>
<text x="434.6" y="271.8" class="cb">(b)</text><text x="458" y="271.7" class="c">Ampreg 22</text>
<path d="M82.2,286.9 h40" stroke="#d2d2d2" stroke-width="1.7" fill="none"/>
<text x="128.5" y="290.6" class="l">15°C</text>
<path d="M164.1,286.9 h40" stroke="#c2c2c2" stroke-width="1.7" fill="none"/>
<text x="210.4" y="290.6" class="l">20°C</text>
<path d="M245.9,286.9 h40" stroke="#b2b2b2" stroke-width="1.7" fill="none"/>
<text x="292.2" y="290.6" class="l">25°C</text>
<path d="M327.8,286.9 h40" stroke="#a2a2a2" stroke-width="1.7" fill="none"/>
<text x="374.1" y="290.6" class="l">30°C</text>
<path d="M409.6,286.9 h40" stroke="#8c8c8c" stroke-width="1.7" fill="none"/>
<text x="455.9" y="290.6" class="l">40°C</text>
<path d="M491.4,286.9 h40" stroke="#666666" stroke-width="1.7" fill="none"/>
<text x="537.8" y="290.6" class="l">70°C</text>
</svg>
</body></html>
